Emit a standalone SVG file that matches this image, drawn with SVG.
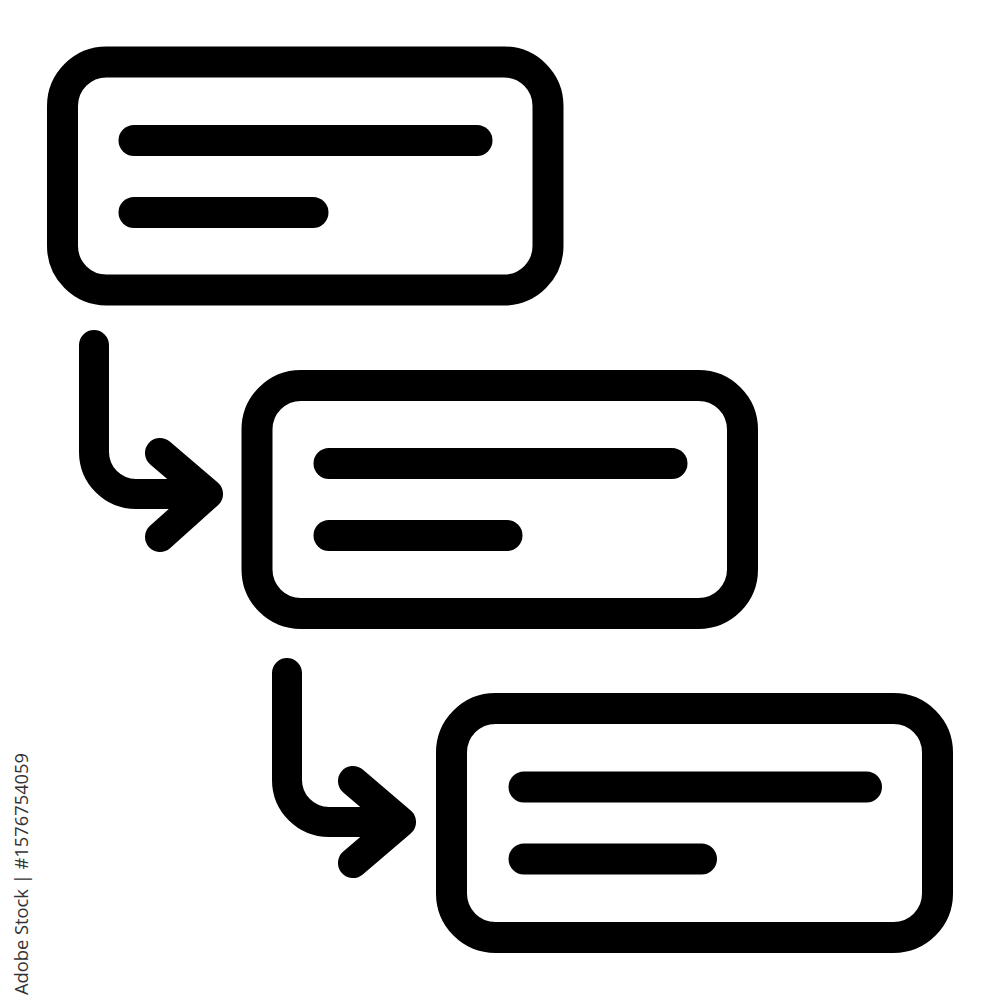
<svg xmlns="http://www.w3.org/2000/svg" width="1000" height="1000" viewBox="0 0 1000 1000">
  <style>
    .box { fill: none; stroke: #000; stroke-width: 31; }
    .ln { fill: none; stroke: #000; stroke-width: 31; stroke-linecap: round; }
    .conn { fill: none; stroke: #000; stroke-width: 30; stroke-linecap: round; stroke-linejoin: round; }
    .wm { font-family: "Open Sans", "Liberation Sans", sans-serif; font-size: 17.5px; fill: #333; }
  </style>
  <rect width="1000" height="1000" fill="#fff"/>
  <g id="node1">
    <rect class="box" x="62.5" y="62" width="485.5" height="228" rx="44"/>
    <line class="ln" x1="134" y1="140.5" x2="477" y2="140.5"/>
    <line class="ln" x1="134" y1="212.5" x2="313" y2="212.5"/>
  </g>
  <g id="node2">
    <rect class="box" x="257" y="385.5" width="485.5" height="228" rx="44"/>
    <line class="ln" x1="329" y1="463.5" x2="672" y2="463.5"/>
    <line class="ln" x1="329" y1="535.5" x2="507" y2="535.5"/>
  </g>
  <g id="node3">
    <rect class="box" x="451.5" y="708.5" width="486" height="229" rx="44"/>
    <line class="ln" x1="524" y1="787" x2="866.5" y2="787"/>
    <line class="ln" x1="524" y1="859" x2="701.5" y2="859"/>
  </g>
  <g id="connectors">
    <path class="conn" d="M94 345 V452 A42 42 0 0 0 136 494 H205"/>
    <path class="conn" d="M160 453 L208 494 L160 537"/>
    <path class="conn" d="M287 673 V780 A42 42 0 0 0 329 822 H398"/>
    <path class="conn" d="M353 781 L401 822 L353 863"/>
  </g>
  <text class="wm" transform="translate(28 995) rotate(-90)" textLength="242" lengthAdjust="spacingAndGlyphs">Adobe Stock | #1576754059</text>
</svg>
